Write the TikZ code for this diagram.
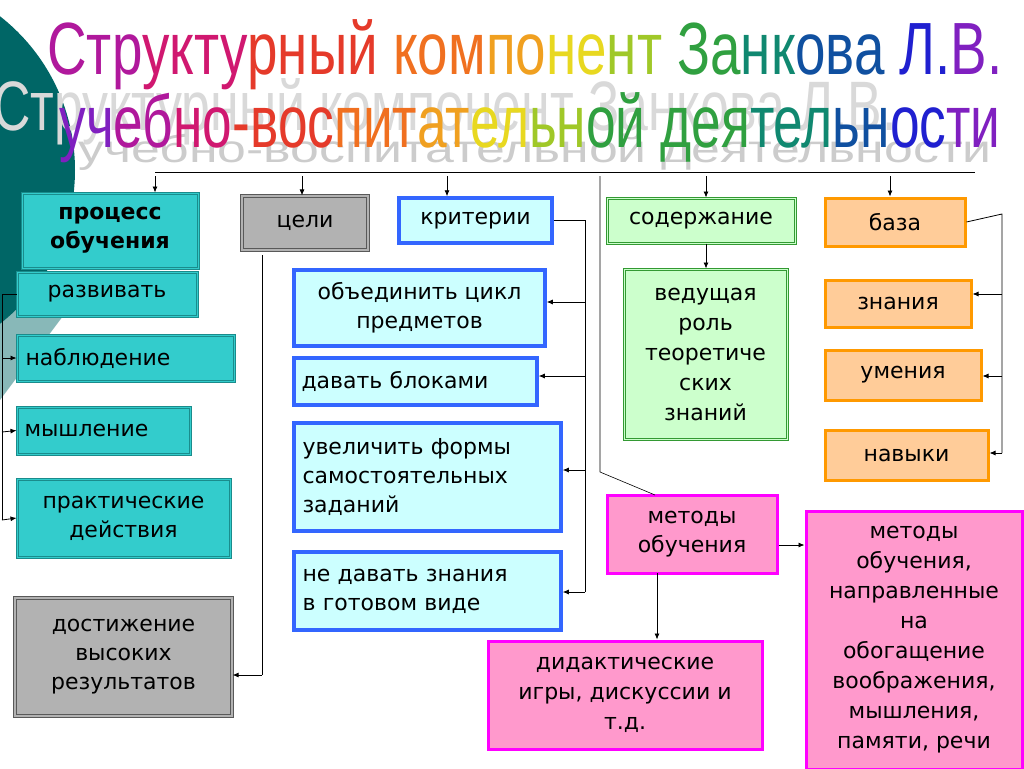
\documentclass[tikz,border=0pt]{standalone}
\usepackage{fontspec}
\setmainfont{DejaVu Sans}
\newfontfamily\titlefont{Liberation Sans}
\usetikzlibrary{arrows.meta}
\definecolor{teal1}{HTML}{33CCCC}
\definecolor{tealb}{HTML}{1A8C8C}
\definecolor{grayf}{HTML}{B2B2B2}
\definecolor{cyanf}{HTML}{CCFFFF}
\definecolor{blueb}{HTML}{3366FF}
\definecolor{greenf}{HTML}{CCFFCC}
\definecolor{greenb}{HTML}{339933}
\definecolor{orf}{HTML}{FFCC99}
\definecolor{orb}{HTML}{FF9900}
\definecolor{pinkf}{HTML}{FF99CC}
\definecolor{pinkb}{HTML}{FF00FF}
\definecolor{bgdark}{HTML}{006666}
\definecolor{bglight}{HTML}{88B8B8}
\definecolor{ca}{HTML}{B0189C}\definecolor{cb}{HTML}{D01870}\definecolor{cc}{HTML}{E53A2A}
\definecolor{cd}{HTML}{F07020}\definecolor{ce}{HTML}{F0A020}\definecolor{cf}{HTML}{E8D820}
\definecolor{cg}{HTML}{A0C828}\definecolor{ch}{HTML}{30A040}\definecolor{ci}{HTML}{108870}
\definecolor{cj}{HTML}{1050A0}\definecolor{ck}{HTML}{2020D0}\definecolor{cl}{HTML}{8020C0}
\begin{document}
\begin{tikzpicture}[x=1pt,y=-1pt,
  bx/.style={draw,line width=2pt,align=center,font=\fontsize{22}{29}\selectfont,inner sep=0pt},
  tealbox/.style={bx,fill=teal1,draw=tealb,double=teal1,double distance=1pt,line width=1pt},
  graybox/.style={bx,fill=grayf,draw=gray!70!black,double=grayf,double distance=2pt,line width=1.2pt},
  cyanbox/.style={bx,fill=cyanf,draw=blueb,line width=3.5pt},
  greenbox/.style={bx,fill=greenf,draw=greenb,double=greenf,double distance=1pt,line width=1pt},
  orbox/.style={bx,fill=orf,draw=orb,line width=3pt},
  pinkbox/.style={bx,fill=pinkf,draw=pinkb,line width=3pt},
  ln/.style={draw=black,line width=0.8pt},
  ar/.style={ln,-{Latex[length=6pt,width=5pt]}}]
\useasboundingbox (0,0) rectangle (1024,768);
\fill[white] (0,0) rectangle (1024,768);
% background
\begin{scope}
\clip (0,0) rectangle (1024,768);
\fill[bglight] (0,300) -- (75,300) -- (0,400) -- cycle;
\fill[bgdark] (-120,170) circle (195);
\end{scope}
% title
\node[font=\titlefont\fontsize{70}{70}\selectfont,xscale=0.74,text=gray!30] (sh) at (445,112)
 {Структурный компонент Занкова Л.В.};
\node[font=\titlefont\fontsize{70}{70}\selectfont,xscale=0.74,yscale=0.55,text=gray!40] (sh2) at (535,152)
 {учебно-воспитательной деятельности};
\node[font=\titlefont\fontsize{74}{74}\selectfont,xscale=0.74] (t1) at (525,55)
 {{\color{ca}Стр}{\color{cb}укту}{\color{cc}рный} {\color{cd}ком}{\color{ce}по}{\color{cf}не}{\color{cg}нт} {\color{ch}За}{\color{ci}нк}{\color{cj}ова} {\color{ck}Л.}{\color{cl}В.}};
\node[font=\titlefont\fontsize{74}{74}\selectfont,xscale=0.72] (t2) at (530,128)
 {{\color{cl}уч}{\color{ca}еб}{\color{cb}но}{\color{cc}-вос}{\color{cd}пит}{\color{ce}ат}{\color{cf}ел}{\color{cg}ьн}{\color{ch}ой} {\color{ch}дея}{\color{ci}тел}{\color{cj}ьн}{\color{ck}ос}{\color{cl}ти}};
% top line
\coordinate (L) at (155,172); \coordinate (R) at (975,172);
\draw[ln] (L) -- (R);
% boxes
\node[tealbox,minimum width=176,minimum height=75,font=\fontsize{22}{29}\selectfont\bfseries] (po) at (110,230.5) {процесс\\обучения};
\node[graybox,minimum width=126,minimum height=54] (ce) at (305,223) {цели};
\node[cyanbox,minimum width=153,minimum height=45] (kr) at (475.5,220.5) {критерии};
\node[greenbox,minimum width=188,minimum height=45] (so) at (701,220.5) {содержание};
\node[orbox,minimum width=140,minimum height=48] (ba) at (895,222) {база};
\foreach \x/\n in {155/po,302/ce,447/kr,706/so,890/ba}
  \draw[ar] (\x,176) -- (\n.north -| \x,0);
\node[tealbox,minimum width=180,minimum height=44] (ra) at (107,294) {развивать};
\node[tealbox,minimum width=217,minimum height=46,text width=200,align=left] (na) at (125.5,358) {наблюдение};
\node[tealbox,minimum width=173,minimum height=47,text width=158,align=left] (my) at (103.5,430.5) {мышление};
\node[tealbox,minimum width=213,minimum height=78] (pr) at (123.5,518) {практические\\действия};
\node[graybox,minimum width=217,minimum height=118] (dos) at (123.5,657) {достижение\\высоких\\результатов};
\node[cyanbox,minimum width=251,minimum height=76] (ob) at (419.5,308) {объединить цикл\\предметов};
\node[cyanbox,minimum width=243,minimum height=47,text width=228,align=left] (da) at (415.5,381.5) {давать блоками};
\node[cyanbox,minimum width=267,minimum height=108,text width=250,align=left] (uv) at (427.5,477) {увеличить формы\\самостоятельных\\заданий};
\node[cyanbox,minimum width=267,minimum height=78,text width=250,align=left] (ne) at (427.5,591) {не давать знания\\в готовом виде};
\node[greenbox,minimum width=163,minimum height=170,font=\fontsize{22}{30}\selectfont] (ve) at (705.5,354) {ведущая\\роль\\теоретиче\\ских\\знаний};
\node[orbox,minimum width=146,minimum height=47] (zn) at (898,303.5) {знания};
\node[orbox,minimum width=156,minimum height=50] (um) at (903,375) {умения};
\node[orbox,minimum width=163,minimum height=50] (nav) at (906.5,455) {навыки};
\node[pinkbox,minimum width=170,minimum height=78] (me) at (692,534) {методы\\обучения};
\node[pinkbox,minimum width=216,minimum height=258,font=\fontsize{22}{30}\selectfont] (mb) at (914,640) {методы\\обучения,\\направленные\\на\\обогащение\\воображения,\\мышления,\\памяти, речи};
\node[pinkbox,minimum width=274,minimum height=108,font=\fontsize{22}{30}\selectfont] (di) at (625,695) {дидактические\\игры, дискуссии и\\т.д.};
% connectors left
\draw[ln] (ra.west) -- (2,294) -- (2,520);
\draw[ar] (2,358) -- (na.west);
\draw[ar] (2,432) -- (my.west);
\draw[ar] (2,520) -- (pr.west);
% цели
\draw[ln] (262,255) -- (262,675);
\draw[ar] (262,675) -- (dos.east |- 0,675);
% критерии
\draw[ln] (kr.east) -- (585,220.5) -- (585,592);
\draw[ar] (585,302) -- (ob.east |- 0,302);
\draw[ar] (585,376) -- (da.east |- 0,376);
\draw[ar] (585,470) -- (uv.east |- 0,470);
\draw[ar] (585,592) -- (ne.east |- 0,592);
% separator
\draw[line width=0.6pt] (600,176) -- (600,472) -- (655,495);
% содержание
\draw[ar] (so.south -| 706,0) -- (ve.north -| 706,0);
% база
\draw[ln] (ba.east) -- (1002,214) -- (1002,453);
\draw[ar] (1002,294) -- (zn.east |- 0,294);
\draw[ar] (1002,376) -- (um.east |- 0,376);
\draw[ar] (1002,453) -- (nav.east |- 0,453);
% методы
\draw[ar] (me.east |- 0,545) -- (mb.west |- 0,545);
\draw[ar] (657,573) -- (di.north -| 657,0);
\end{tikzpicture}
\end{document}
